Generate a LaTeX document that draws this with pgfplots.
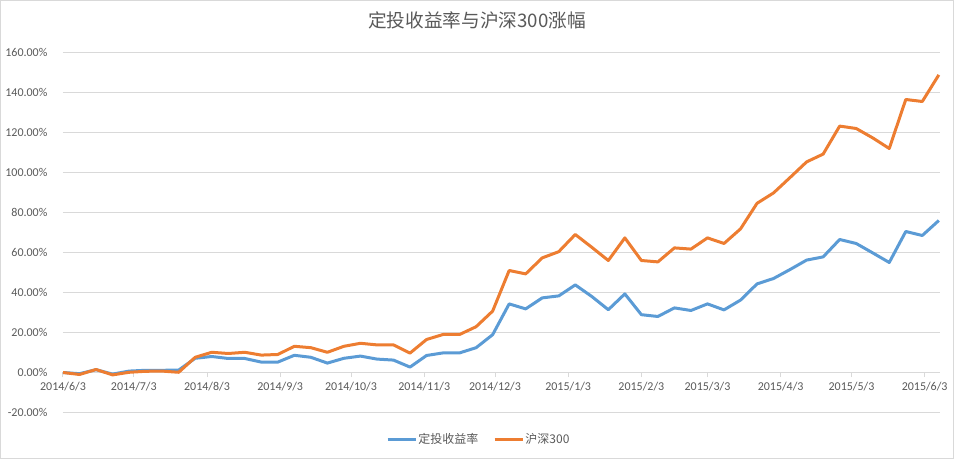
\documentclass[border=0pt]{standalone}
\usepackage{pgfplots}
\pgfplotsset{compat=1.18}
\usepackage{pgfplotstable}
\usepackage{fontspec}
\setmainfont{Carlito}
\newfontfamily\cjk{Noto Sans CJK SC}
\definecolor{sblue}{HTML}{5B9BD5}
\definecolor{sorange}{HTML}{ED7D31}
\definecolor{gridc}{HTML}{D9D9D9}
\definecolor{labc}{HTML}{595959}
\pgfplotstableread{
d   a     b
0   0.0   0.0
7   -0.6  -1.0
14  1.4   1.5
21  -0.8  -1.2
28  0.7   0.1
35  1.1   0.6
42  1.1   0.7
49  1.2   0.1
56  7.1   7.6
63  8.0   10.1
70  7.0   9.5
77  7.0   10.1
84  5.2   8.7
91  5.2   9.0
98  8.6   13.1
105 7.6   12.4
112 4.7   10.1
119 7.1   13.1
126 8.2   14.6
133 6.7   13.8
140 6.2   13.8
147 2.7   9.7
154 8.5   16.5
161 9.8   19.0
168 9.8   19.0
175 12.4  22.9
182 18.9  30.7
189 34.3  51.0
196 31.8  49.3
203 37.3  57.3
210 38.3  60.4
217 43.8  69.0
224 38.0  62.6
231 31.4  56.0
238 39.3  67.3
245 28.9  56.0
252 28.0  55.3
259 32.3  62.3
266 31.0  61.7
273 34.3  67.3
280 31.3  64.5
287 36.2  71.8
294 44.3  84.6
301 47.0  89.8
308 51.5  97.5
315 56.2  105.3
322 57.8  109.2
329 66.5  123.2
336 64.5  122.0
343 59.8  117.3
350 55.0  112.0
357 70.5  136.5
364 68.5  135.5
371 76.0  148.8
}\datatable
\begin{document}
\begin{tikzpicture}
\path[use as bounding box] (-47.25pt,-34.875pt) rectangle (668.25pt,309.375pt);
\begin{axis}[
  scale only axis, width=657.75pt, height=270pt,
  xmin=0, xmax=371.5, ymin=-20, ymax=160,
  clip=false,
  axis x line=middle, axis y line=left,
  hide obscured x ticks=false, hide obscured y ticks=false,
  every inner x axis line/.append style={-},
  every outer y axis line/.append style={-},
  x axis line style={draw=gridc, line width=0.75pt, -},
  y axis line style={draw=none, -},
  ymajorgrids, grid style={draw=gridc, line width=0.75pt},
  ytick={-20,0,20,40,60,80,100,120,140,160},
  yticklabels={-20.00\%,0.00\%,20.00\%,40.00\%,60.00\%,80.00\%,100.00\%,120.00\%,140.00\%,160.00\%},
  xtick={0,30,61,92,122,153,183,214,245,273,304,334,365},
  xticklabels={2014/6/3,2014/7/3,2014/8/3,2014/9/3,2014/10/3,2014/11/3,2014/12/3,2015/1/3,2015/2/3,2015/3/3,2015/4/3,2015/5/3,2015/6/3},
  tick align=outside, major tick length=3.5pt,
  ytick style={draw=none},
  xtick style={draw=gridc, line width=0.75pt},
  tick label style={font=\fontsize{9}{11}\selectfont, text=labc},
  yticklabel style={anchor=east, inner sep=0pt, xshift=-8pt},
  xticklabel style={anchor=north, inner sep=0pt, yshift=-3.5pt},
  title={\cjk\fontsize{14}{16}\selectfont 定投收益率与沪深300涨幅},
  title style={at={(rel axis cs:0.4721,1.068)}, anchor=center, text=labc, inner sep=0pt},
  legend columns=2,
  legend style={draw=none, fill=none, at={(rel axis cs:0.4737,-0.0737)}, anchor=center,
    font=\cjk\fontsize{9}{11}\selectfont, text=labc,
    /tikz/every even column/.append style={column sep=10pt},
    nodes={inner sep=1pt}},
  legend image code/.code={\draw[#1] (0pt,0pt) -- (21pt,0pt);},
  line join=round,
]
\addplot[sblue, line width=2.25pt] table[x=d, y=a] {\datatable};
\addlegendentry{定投收益率}
\addplot[sorange, line width=2.25pt] table[x=d, y=b] {\datatable};
\addlegendentry{沪深300}
\end{axis}
\draw[gridc, line width=0.75pt] (-46.9pt,-34.5pt) rectangle (667.9pt,309pt);
\end{tikzpicture}
\end{document}
